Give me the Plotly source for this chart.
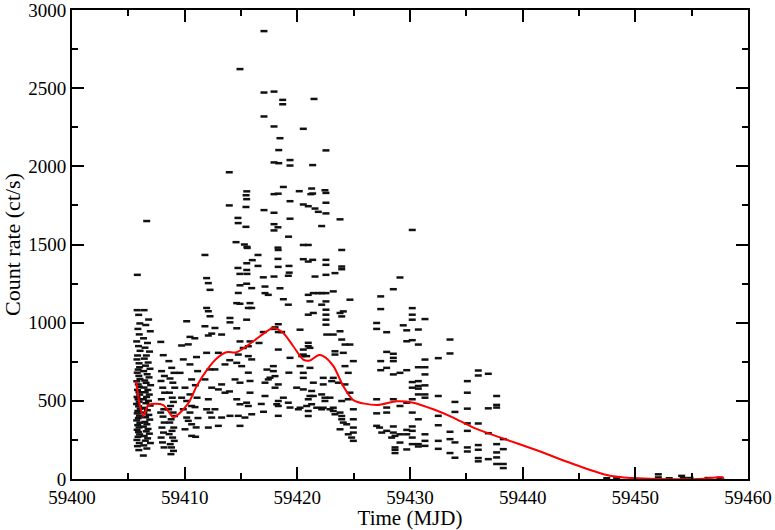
import plotly.graph_objects as go

# ---------------- data (MJD, count rate) ----------------
a1_mjd = [59405.80, 59405.78, 59405.92, 59406.02, 59405.85, 59405.97, 59405.74, 59405.90, 59406.04, 59405.82,
          59405.76, 59405.95, 59406.00, 59405.87, 59405.79, 59405.93, 59406.03, 59405.75, 59405.88, 59405.98,
          59405.81, 59405.94, 59406.01, 59405.77, 59405.86, 59405.96, 59405.73, 59405.91, 59406.05, 59405.84,
          59405.79, 59405.99, 59405.89, 59405.74, 59406.02, 59405.83, 59405.95, 59405.78, 59405.90, 59406.00,
          59405.86, 59405.76, 59405.97, 59405.81, 59405.93]
a1_rate = [1306, 1080, 1050, 995, 960, 925, 880, 850, 820, 790,
           765, 740, 715, 700, 680, 660, 640, 625, 605, 590,
           570, 555, 540, 525, 510, 495, 480, 465, 450, 435,
           420, 405, 390, 375, 360, 345, 330, 315, 300, 285,
           270, 250, 230, 210, 185]

a2_mjd = [59406.63, 59406.40, 59406.80, 59406.55, 59406.95, 59406.35, 59406.70, 59406.48, 59406.88, 59406.60,
          59406.42, 59406.76, 59406.52, 59406.92, 59406.36, 59406.67, 59406.84, 59406.45, 59406.58, 59406.98,
          59406.39, 59406.73, 59406.50, 59406.86, 59406.62, 59406.33, 59406.79, 59406.56, 59406.94, 59406.44,
          59406.69, 59406.38, 59406.82, 59406.53, 59406.90, 59406.47, 59406.65, 59406.34, 59406.75, 59406.59,
          59406.87, 59406.41, 59406.71, 59406.51, 59406.96, 59406.37, 59406.64, 59406.33]
a2_rate = [1650, 1080, 1020, 985, 945, 900, 870, 840, 815, 790,
           770, 745, 725, 705, 690, 670, 650, 630, 615, 600,
           585, 570, 555, 540, 525, 510, 500, 485, 470, 455,
           440, 425, 410, 395, 380, 365, 350, 335, 320, 305,
           290, 275, 260, 245, 230, 215, 195, 150]

b_mjd = [59407.88, 59408.10, 59407.95, 59408.20, 59407.90, 59408.05, 59408.22, 59407.93, 59408.15,
         59407.87, 59408.08, 59408.18, 59407.98, 59408.12, 59407.91, 59408.03, 59408.17]
b_rate = [877, 792, 690, 659, 627, 584, 552, 510, 446, 425, 399, 361, 329, 297, 265, 234, 202]

c_mjd = [59408.60, 59408.85, 59409.05, 59408.70, 59408.95, 59409.12, 59408.65, 59408.90, 59409.00, 59408.75,
         59408.58, 59408.98, 59409.10, 59408.80, 59408.68, 59409.03, 59408.88, 59408.62, 59408.93, 59409.08,
         59408.72, 59408.83, 59409.01, 59408.78]
c_rate = [754, 711, 679, 643, 616, 584, 552, 520, 493, 467, 446, 425, 403, 382, 361, 329, 308, 287, 265, 244,
          223, 202, 180, 159]

d_points = [(59410.18, 1009), (59410.47, 909), (59410.32, 861), (59409.73, 854), (59409.88, 765),
            (59410.47, 733), (59409.59, 679), (59410.62, 637), (59410.03, 584), (59410.47, 541),
            (59409.73, 520), (59410.18, 499), (59410.62, 467), (59409.88, 446), (59410.47, 425),
            (59410.18, 393), (59410.32, 372), (59410.62, 350), (59410.03, 318), (59410.62, 276),
            (59410.90, 900), (59411.05, 780), (59411.15, 690), (59410.95, 600), (59411.10, 520),
            (59410.92, 460), (59411.18, 390), (59411.02, 330), (59410.97, 270)]

e_points = [(59411.80, 1433), (59411.95, 1285), (59412.10, 1253), (59412.25, 1210), (59411.95, 1094),
            (59412.10, 1073), (59412.25, 1041), (59411.80, 977), (59412.40, 930), (59412.10, 918),
            (59411.95, 807), (59412.25, 701), (59411.80, 637), (59412.40, 584), (59412.10, 510),
            (59411.95, 446), (59412.25, 425), (59412.40, 393), (59412.10, 329),
            (59412.69, 966), (59413.28, 924), (59412.99, 807), (59413.58, 733), (59412.69, 701),
            (59413.28, 605), (59412.99, 573), (59413.58, 552), (59412.69, 446), (59413.28, 393),
            (59412.99, 340)]

peak_high_points = [(59417.04, 2865), (59414.91, 2622), (59417.04, 2472), (59417.93, 2478), (59418.70, 2425),
                    (59418.70, 2397), (59417.04, 2319), (59417.93, 2255), (59418.46, 2180), (59418.35, 2104),
                    (59417.93, 2025), (59418.35, 2020), (59419.35, 2040), (59419.35, 2005), (59413.96, 1962),
                    (59418.76, 1868), (59415.51, 1840), (59415.45, 1815), (59415.50, 1790), (59417.93, 1822),
                    (59418.30, 1825), (59419.35, 1777), (59413.96, 1750), (59415.44, 1740), (59417.04, 1720),
                    (59417.93, 1703), (59419.35, 1665), (59414.73, 1670), (59414.75, 1637), (59415.44, 1613),
                    (59417.93, 1630), (59418.28, 1610), (59417.93, 1590), (59419.22, 1550), (59414.56, 1515),
                    (59415.30, 1500), (59415.53, 1485), (59415.55, 1478), (59416.51, 1433), (59418.28, 1480),
                    (59418.30, 1465), (59416.00, 1400), (59415.51, 1380), (59416.51, 1363), (59418.28, 1408),
                    (59418.30, 1357), (59419.26, 1363), (59419.28, 1320), (59414.73, 1350), (59414.90, 1312),
                    (59415.51, 1337), (59415.53, 1312), (59416.98, 1290), (59417.93, 1295), (59419.20, 1300)]

peak_low_points = [(59414.02, 1030), (59414.02, 1002), (59414.00, 760), (59413.98, 560), (59414.02, 404),
                   (59414.76, 1190), (59414.62, 1125), (59414.91, 1121), (59414.62, 964), (59414.91, 880),
                   (59414.76, 796), (59414.62, 743), (59415.06, 722), (59414.47, 637), (59414.91, 616),
                   (59414.62, 510), (59414.91, 478), (59414.76, 404), (59414.91, 340), (59414.91, 1239),
                   (59415.50, 1249), (59415.95, 1221), (59415.80, 1125), (59415.65, 1094), (59415.95, 1094),
                   (59415.50, 1019), (59415.80, 880), (59415.20, 838), (59415.65, 849), (59415.65, 786),
                   (59415.95, 765), (59415.65, 680), (59415.80, 627), (59415.80, 552), (59415.50, 488),
                   (59415.65, 467), (59415.35, 393), (59415.95, 414),
                   (59417.13, 1231), (59417.13, 1189), (59417.42, 1178), (59416.98, 940), (59416.60, 870),
                   (59417.30, 700), (59417.57, 648), (59417.42, 637), (59417.13, 616), (59417.13, 531),
                   (59416.80, 480), (59417.00, 430),
                   (59418.31, 990), (59418.02, 970), (59417.87, 960), (59418.31, 940), (59418.61, 940),
                   (59418.31, 828), (59417.87, 722), (59417.87, 690), (59418.02, 658), (59418.31, 605),
                   (59418.02, 584), (59418.76, 520), (59418.31, 499), (59418.17, 478), (59418.31, 467),
                   (59418.31, 404), (59418.46, 1220), (59418.76, 1150),
                   (59419.20, 1115), (59419.35, 775), (59419.20, 488), (59419.35, 457), (59419.25, 680)]

late_peak_points = [(59420.53, 2240), (59421.48, 2431), (59421.36, 2008), (59422.54, 2102), (59420.17, 1841),
                    (59421.27, 1858), (59421.36, 1826), (59421.20, 1822), (59422.45, 1847), (59422.54, 1830),
                    (59420.53, 1756), (59420.97, 1745), (59422.54, 1767), (59421.57, 1730), (59421.86, 1709),
                    (59422.54, 1699), (59422.16, 1618), (59423.79, 1661), (59420.53, 1497), (59420.97, 1497),
                    (59423.94, 1465), (59420.53, 1406), (59420.97, 1391), (59421.36, 1402), (59422.54, 1402),
                    (59422.54, 1370), (59422.54, 1306), (59423.34, 1317), (59423.94, 1359), (59423.94, 1342),
                    (59421.57, 1295),
                    (59420.97, 1178), (59421.42, 1189), (59421.86, 1189), (59422.16, 1189), (59422.54, 1189),
                    (59423.19, 1200), (59421.12, 1136), (59421.42, 1062), (59420.97, 1051), (59422.16, 1115),
                    (59422.54, 1136), (59422.54, 1083), (59422.54, 1051), (59422.54, 1019), (59422.54, 987),
                    (59423.79, 1062), (59424.08, 1072), (59423.94, 1040), (59424.67, 1147), (59420.24, 955),
                    (59423.19, 924), (59422.61, 924), (59423.79, 945), (59423.94, 892), (59424.67, 860),
                    (59424.23, 860), (59423.34, 817), (59423.34, 796), (59424.08, 807), (59424.97, 754),
                    (59420.53, 828), (59420.53, 796), (59420.39, 786), (59420.97, 871), (59420.97, 849),
                    (59421.12, 839), (59420.83, 786),
                    (59420.24, 722), (59421.12, 711), (59420.53, 679), (59420.53, 647), (59421.42, 616),
                    (59422.30, 647), (59422.30, 605), (59423.19, 647), (59423.05, 626), (59423.64, 616),
                    (59424.23, 605), (59424.52, 679), (59424.23, 722), (59424.67, 552), (59423.94, 499),
                    (59423.19, 456), (59419.94, 584), (59420.53, 573), (59420.97, 510), (59421.12, 531),
                    (59421.42, 531), (59421.27, 563), (59422.16, 541), (59422.45, 520), (59422.45, 499),
                    (59422.30, 456), (59422.90, 520), (59420.24, 456), (59420.09, 446), (59420.83, 467),
                    (59420.97, 435), (59420.97, 403), (59421.27, 478), (59421.72, 456), (59422.16, 446),
                    (59422.90, 446), (59423.19, 435), (59423.34, 414), (59423.79, 425), (59423.94, 403),
                    (59423.94, 382), (59424.08, 361), (59423.79, 318), (59424.38, 350), (59424.52, 286),
                    (59424.82, 265), (59424.97, 297), (59424.97, 382), (59424.97, 329), (59424.97, 244),
                    (59424.97, 446), (59424.52, 510)]

decline_points = [(59430.20, 1593), (59429.11, 1289), (59428.52, 1214), (59427.40, 1168), (59427.40, 1087),
                  (59430.20, 1093), (59430.20, 1051), (59431.33, 1023), (59430.20, 1019), (59429.40, 983),
                  (59427.04, 998), (59427.04, 960), (59427.93, 939), (59429.71, 951), (59430.74, 956),
                  (59429.71, 881), (59430.20, 888), (59430.74, 860), (59427.93, 813), (59428.52, 801),
                  (59428.52, 775), (59428.52, 754), (59427.40, 754), (59427.93, 711), (59427.40, 696),
                  (59428.52, 669), (59429.11, 679), (59429.71, 696), (59431.33, 764), (59430.74, 715),
                  (59431.33, 715), (59432.51, 773), (59431.33, 669), (59430.20, 620), (59430.74, 626),
                  (59430.20, 584), (59430.74, 595), (59430.74, 578), (59430.74, 541), (59431.33, 599),
                  (59431.33, 541), (59431.33, 520), (59432.51, 531),
                  (59427.04, 510), (59427.04, 420), (59427.93, 457), (59427.93, 425), (59428.52, 510),
                  (59429.11, 467), (59429.71, 488), (59430.20, 510), (59430.20, 425), (59427.04, 340),
                  (59427.30, 329), (59427.49, 297), (59427.93, 308), (59428.52, 336), (59428.52, 297),
                  (59428.67, 276), (59428.37, 265), (59429.11, 286), (59429.11, 233), (59428.67, 202),
                  (59428.67, 187), (59428.67, 166), (59429.71, 314), (59429.71, 286), (59430.20, 336),
                  (59430.20, 308), (59430.20, 265), (59430.74, 382), (59430.74, 223), (59430.74, 208),
                  (59431.33, 286), (59431.33, 244), (59431.33, 212), (59432.51, 404), (59432.51, 344),
                  (59432.51, 244), (59432.51, 193), (59430.20, 223), (59429.71, 189),
                  (59433.55, 892), (59433.55, 803), (59436.06, 694), (59436.06, 662), (59436.95, 673),
                  (59435.09, 626), (59435.09, 552), (59433.99, 493), (59433.99, 429), (59435.09, 450),
                  (59436.95, 452), (59437.69, 531), (59437.69, 474), (59437.69, 457), (59435.09, 356),
                  (59436.06, 355), (59435.09, 308), (59433.55, 302), (59433.55, 255), (59433.99, 234),
                  (59436.95, 293), (59438.28, 255), (59437.69, 223), (59436.06, 217), (59435.09, 202),
                  (59435.09, 176), (59436.06, 187), (59433.55, 166), (59433.99, 136), (59436.06, 134),
                  (59436.06, 113), (59436.95, 127), (59437.69, 170), (59437.69, 138), (59438.28, 191),
                  (59437.69, 96), (59438.28, 96), (59438.28, 70)]

tail_mjd = [59447.46, 59448.34, 59452.04, 59452.04, 59453.01, 59454.11, 59454.26, 59454.85, 59456.45, 59457.51]
tail_rate = [5, 4, 30, 10, 5, 20, 6, 6, 6, 8]

# smoothed trend (red curve)
curve_mjd = [59405.70, 59406.00, 59406.33, 59406.80, 59408.10, 59409.00, 59410.30, 59411.06, 59412.00,
             59412.84, 59413.70, 59414.60, 59416.10, 59417.00, 59417.87, 59418.75, 59419.64, 59420.53,
             59421.12, 59421.86, 59422.30, 59423.20, 59424.08, 59424.97, 59427.04, 59428.82, 59430.29,
             59432.07, 59433.84, 59435.62, 59437.99, 59441.00, 59445.10, 59447.75, 59449.80, 59451.90,
             59455.70, 59457.66, 59457.87]
curve_rate = [624, 480, 403, 473, 473, 397, 482, 594, 700,
              771, 811, 811, 881, 930, 966, 934, 849, 764,
              758, 792, 786, 722, 594, 505, 473, 497, 488,
              446, 393, 329, 266, 190, 80, 21, 6, 0,
              0, 11, 0]

# ---------------- assemble ----------------
all_mjd = list(a1_mjd) + list(a2_mjd) + list(b_mjd) + list(c_mjd)
all_rate = list(a1_rate) + list(a2_rate) + list(b_rate) + list(c_rate)
for grp in (d_points, e_points, peak_high_points, peak_low_points, late_peak_points, decline_points):
    all_mjd += [p[0] for p in grp]
    all_rate += [p[1] for p in grp]
all_mjd += tail_mjd
all_rate += tail_rate

FONT = "Liberation Serif, Times New Roman, serif"

fig = go.Figure()
fig.add_trace(go.Scatter(
    x=all_mjd, y=all_rate, mode="markers",
    marker=dict(symbol="line-ew", size=5, color="black",
                line=dict(width=2.5, color="#111111")),
    hoverinfo="x+y", showlegend=False))
fig.add_trace(go.Scatter(
    x=curve_mjd, y=curve_rate, mode="lines",
    line=dict(color="#ff0000", width=2, shape="spline", smoothing=0.8),
    showlegend=False))

axis_common = dict(
    ticks="inside", ticklen=12, tickwidth=1.5, tickcolor="black",
    showline=True, linewidth=2, linecolor="black", mirror="allticks",
    showgrid=False, zeroline=False, automargin=False,
    ticklabeloverflow="allow",
    tickfont=dict(family=FONT, size=19, color="black"),
)

fig.update_layout(
    width=775, height=530,
    margin=dict(l=72, r=27, t=10, b=51),
    paper_bgcolor="white", plot_bgcolor="white",
    font=dict(family=FONT, color="black"),
    xaxis=dict(range=[59400, 59460], tick0=59400, dtick=10, tickformat="d",
               minor=dict(ticks="inside", dtick=5, ticklen=6, tickwidth=1.5, tickcolor="black", showgrid=False),
               title=dict(text="Time (MJD)", font=dict(family=FONT, size=21), standoff=7),
               **axis_common),
    yaxis=dict(range=[0, 3000], tick0=0, dtick=500, tickformat="d",
               minor=dict(ticks="inside", dtick=250, ticklen=6, tickwidth=1.5, tickcolor="black", showgrid=False),
               title=dict(text="Count rate (ct/s)", font=dict(family=FONT, size=22), standoff=4),
               **axis_common),
)

fig.write_html("out.html")
